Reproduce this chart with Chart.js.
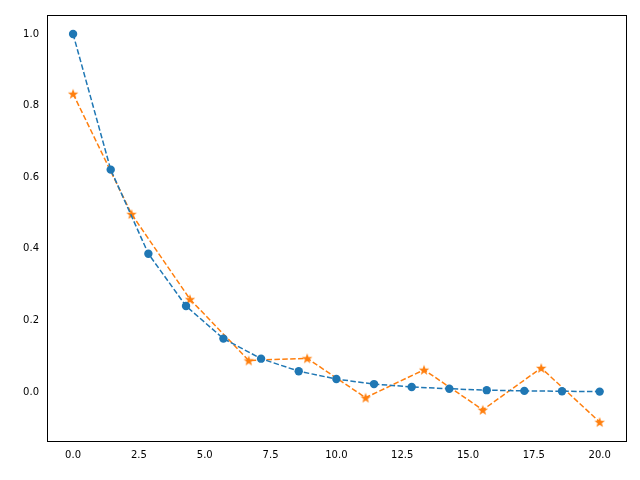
<!DOCTYPE html>
<html>
<head>
<script src="https://cdn.jsdelivr.net/npm/chart.js@4"></script>
<style>body{margin:0;background:#fff}</style>
</head>
<body>
<canvas id="myChart" width="640" height="480"></canvas>
<script>
// data
const blueX = [0, 1.43, 2.86, 4.29, 5.71, 7.14, 8.57, 10, 11.43, 12.86, 14.29, 15.71, 17.14, 18.57, 20];
const blueY = [1.0, 0.621, 0.386, 0.240, 0.149, 0.093, 0.058, 0.036, 0.022, 0.014, 0.009, 0.005, 0.003, 0.002, 0.001];
const orangeX = [0, 2.22, 4.44, 6.67, 8.89, 11.11, 13.33, 15.56, 17.78, 20];
const orangeY = [0.833, 0.497, 0.259, 0.088, 0.094, -0.016, 0.062, -0.050, 0.067, -0.084];
const xTicks = [0, 2.5, 5, 7.5, 10, 12.5, 15, 17.5, 20];
const yTicks = [0, 0.2, 0.4, 0.6, 0.8, 1.0];

const blue = '#1f77b4';
const orange = '#ff7f0e';

// filled star marker like matplotlib '*'
function starImage(color) {
    const c = document.createElement('canvas');
    c.width = 12; c.height = 12;
    const g = c.getContext('2d');
    g.fillStyle = color;
    g.beginPath();
    for (let i = 0; i < 10; i++) {
        const r = i % 2 === 0 ? 5.5 : 2.3;
        const a = -Math.PI / 2 + i * Math.PI / 5;
        g.lineTo(6 + r * Math.cos(a), 6.5 + r * Math.sin(a));
    }
    g.closePath();
    g.fill();
    return c;
}

function pts(xs, ys) {
    return xs.map((x, i) => ({ x: x, y: ys[i] }));
}

const boxPlugin = {
    id: 'box',
    afterDraw(chart) {
        const a = chart.chartArea;
        const g = chart.ctx;
        g.save();
        g.strokeStyle = '#000';
        g.lineWidth = 1;
        g.strokeRect(a.left + 0.5, a.top + 0.5, a.right - a.left, a.bottom - a.top);
        g.restore();
    }
};

const ctx = document.getElementById('myChart').getContext('2d');
new Chart(ctx, {
    type: 'line',
    data: {
        datasets: [{
            data: pts(blueX, blueY),
            borderColor: blue,
            backgroundColor: blue,
            borderWidth: 1.5,
            borderDash: [5.5, 2.4],
            pointRadius: 4.2,
            pointBorderWidth: 0,
            tension: 0
        }, {
            data: pts(orangeX, orangeY),
            borderColor: orange,
            backgroundColor: orange,
            borderWidth: 1.5,
            borderDash: [5.5, 2.4],
            pointStyle: starImage(orange),
            tension: 0
        }]
    },
    options: {
        responsive: false,
        animation: false,
        devicePixelRatio: 1,
        layout: { padding: { left: 0, top: 15, right: 14, bottom: 0 } },
        plugins: { legend: { display: false }, tooltip: { enabled: false } },
        scales: {
            x: {
                type: 'linear', min: -0.99, max: 21.0,
                grid: { display: false, drawTicks: true, tickLength: 4, color: '#000' },
                border: { color: '#000' },
                afterBuildTicks: s => { s.ticks = xTicks.map(v => ({ value: v })); },
                afterFit: s => { s.height = 39; },
                ticks: {
                    color: '#000', font: { family: 'DejaVu Sans', size: 10 },
                    maxRotation: 0, padding: 4,
                    callback: v => v.toFixed(1)
                }
            },
            y: {
                type: 'linear', min: -0.137, max: 1.053,
                grid: { display: false, drawTicks: true, tickLength: 4, color: '#000' },
                border: { color: '#000' },
                afterBuildTicks: s => { s.ticks = yTicks.map(v => ({ value: v })); },
                afterFit: s => { s.width = 47; },
                ticks: {
                    color: '#000', font: { family: 'DejaVu Sans', size: 10 },
                    padding: 4,
                    callback: v => v.toFixed(1)
                }
            }
        }
    },
    plugins: [boxPlugin]
});
</script>
</body>
</html>
